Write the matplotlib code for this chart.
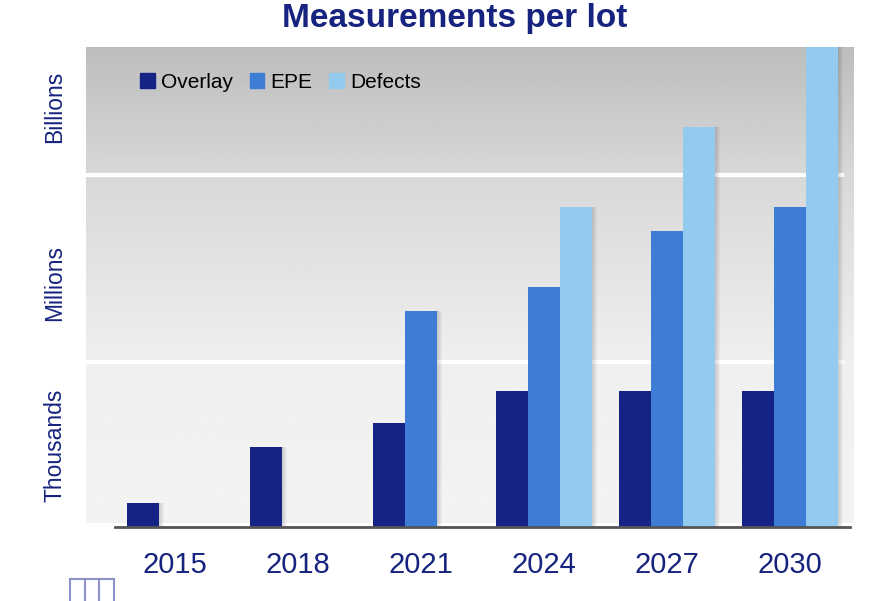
import numpy as np
import matplotlib
matplotlib.use("Agg")
import matplotlib.pyplot as plt
from matplotlib.patches import Patch
from matplotlib.lines import Line2D

plt.rcParams['font.family'] = ['Liberation Sans', 'DejaVu Sans']

# data (heights in chart units, bottom = 0, plot top = 480)
years = ["2015", "2018", "2021", "2024", "2027", "2030"]
overlay = [24, 80, 104, 136, 136, 136]
epe = [0, 0, 216, 240, 296, 320]
defects = [0, 0, 0, 320, 400, 490]
band_lines = [165, 352]           # Thousands | Millions | Billions
band_labels = ["Thousands", "Millions", "Billions"]
band_label_y = [445, 283, 107]    # pixel rows of the rotated labels

navy = "#16237F"
c_overlay = "#152286"
c_epe = "#3D7DD6"
c_defects = "#95CAEF"

W, H = 884, 601
fig = plt.figure(figsize=(W / 100, H / 100), dpi=100)
ax = fig.add_axes([86 / W, (H - 527) / H, 768 / W, 480 / H])

px = 1 / 123.0                    # one pixel in x data units
xmin, xmax = (86 - 175) * px, (854 - 175) * px
ax.set_xlim(xmin, xmax)
ax.set_ylim(0, 480)

# gradient background
rows = np.linspace(480, 4, 300)
shade = np.interp(rows, [4, 165, 352, 480], [243, 239, 216, 189]) / 255.0
img = np.repeat(shade[:, None], 2, axis=1)
ax.imshow(img, cmap="gray", vmin=0, vmax=1, extent=[xmin, xmax, 4, 480],
          aspect="auto", zorder=0, interpolation="bilinear")

for yl in band_lines:
    ax.axhline(yl, xmin=0, xmax=(842 - 86) / 768, color="white", lw=3, zorder=1)

x = np.arange(len(years))
w = 32 * px
series = [(overlay, c_overlay, "Overlay", -w),
          (epe, c_epe, "EPE", 0),
          (defects, c_defects, "Defects", w)]

# soft shadows
for vals, col, lab, off in series:
    for k in range(1, 6):
        ax.bar(x + off + k * px, vals, w, color="black", alpha=0.03, zorder=2, lw=0)

for vals, col, lab, off in series:
    ax.bar(x + off, vals, w, color=col, zorder=3, lw=0, label=lab)

ax.axhline(0, xmin=(115 - 86) / 768, xmax=(850 - 86) / 768, color="#555555",
           lw=2, zorder=4, clip_on=False)

for s in ax.spines.values():
    s.set_visible(False)
ax.set_yticks([])
ax.set_xticks(x)
ax.set_xticklabels(years, fontsize=21, color=navy)
ax.tick_params(axis="x", length=0, pad=17)

handles = [Patch(color=c, label=l) for _, c, l, _ in series]
ax.legend(handles=handles, loc="center left", bbox_to_anchor=(0.06, 0.927),
          ncol=3, frameon=False, fontsize=15, handlelength=0.7, handleheight=0.7,
          handletextpad=0.3, columnspacing=0.8, borderaxespad=0)

fig.text(455 / W, 1 - 18 / H, "Measurements per lot", fontsize=24,
         fontweight="bold", color=navy, ha="center", va="center")

for lab, yp in zip(band_labels, band_label_y):
    fig.text(55 / W, 1 - yp / H, lab, rotation=90, fontsize=16.5, color=navy,
             ha="center", va="center")

# stray table icon at the bottom left
icon = "#8C92C9"
fig.add_artist(Line2D([70 / W, 114 / W], [1 - 579 / H, 1 - 579 / H],
                      transform=fig.transFigure, color=icon, lw=1.5))
for xv in [70, 85, 99, 114]:
    fig.add_artist(Line2D([xv / W, xv / W], [1 - 579 / H, 0],
                          transform=fig.transFigure, color=icon, lw=1.5))

fig.savefig("out.png", dpi=100)
